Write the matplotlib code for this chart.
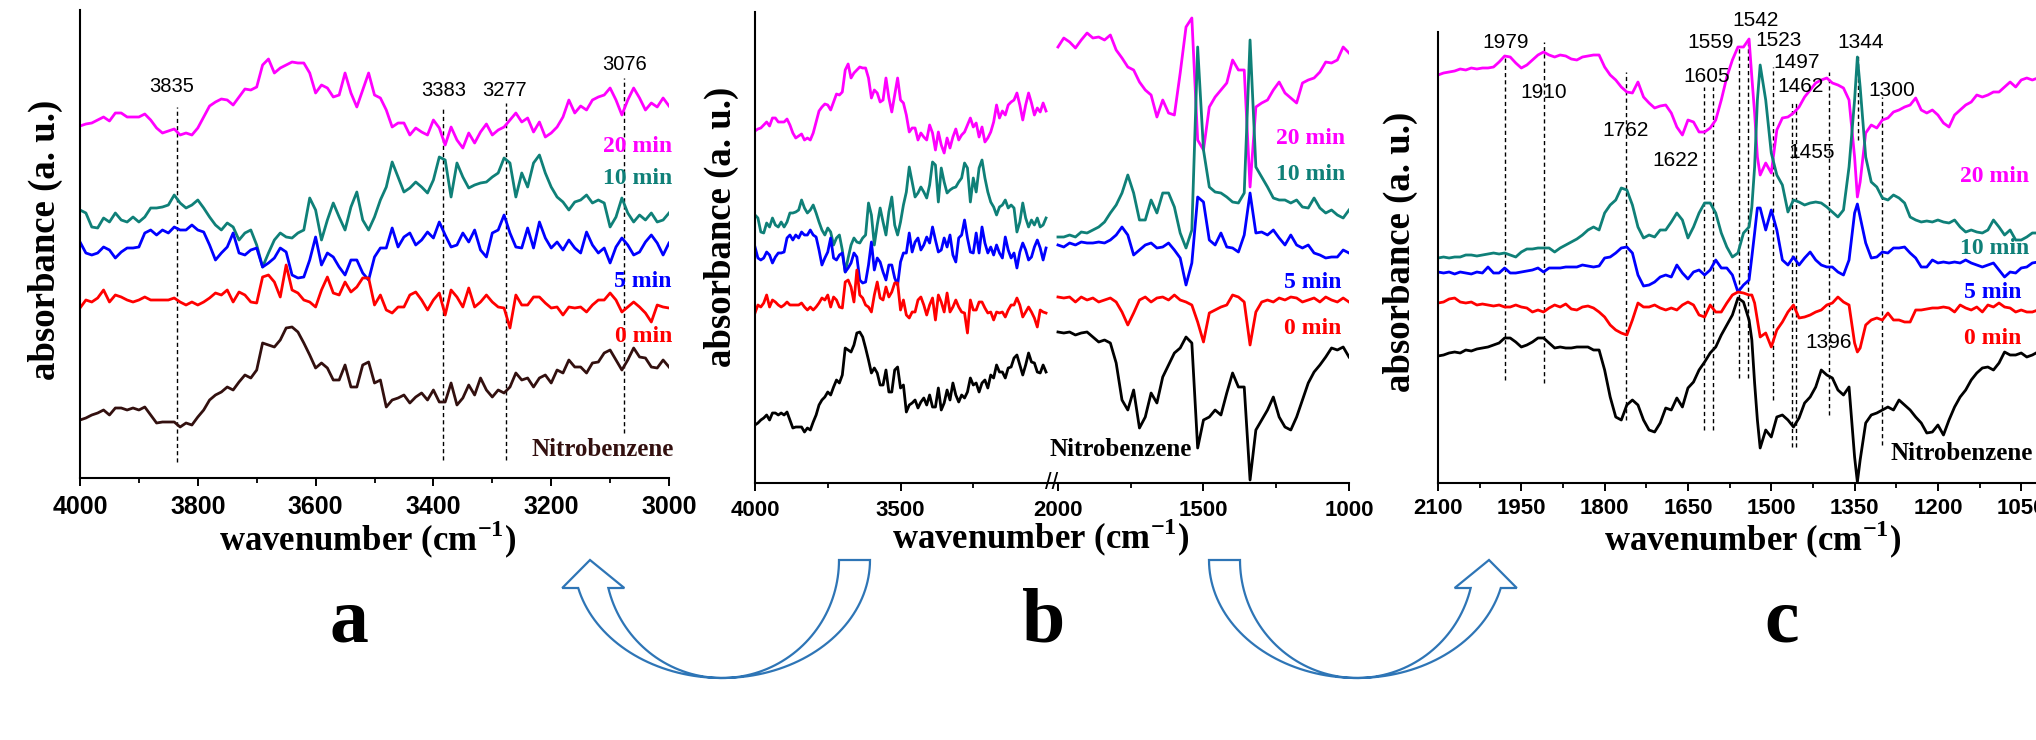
import numpy as np
import matplotlib
matplotlib.use("Agg")
import matplotlib.pyplot as plt
from matplotlib.patches import Polygon
from matplotlib.transforms import blended_transform_factory

plt.rcParams['font.family'] = ['Liberation Sans', 'DejaVu Sans']
plt.rcParams['mathtext.fontset'] = 'custom'
plt.rcParams['mathtext.rm'] = 'Liberation Serif'
plt.rcParams['mathtext.bf'] = 'Liberation Serif:bold'
SERIF = ['Liberation Serif', 'DejaVu Serif']

# ---------------- data (absorbance, arbitrary units, stacked) ----------------
# 4000-3000 cm-1 region, every 10 cm-1
WN_HIGH = np.arange(4000, 2999, -10)
PINK_HIGH = [352, 354, 355, 358, 361, 357, 365, 365, 361, 361,
             361, 364, 358, 350, 345, 347, 349, 343, 345, 343,
             350, 361, 372, 376, 379, 378, 373, 381, 389, 388,
             391, 413, 419, 405, 410, 413, 416, 415, 415, 405,
             385, 393, 390, 381, 383, 405, 385, 371, 388, 405,
             383, 380, 368, 351, 355, 355, 343, 350, 346, 343,
             358, 350, 333, 351, 338, 330, 345, 335, 346, 354,
             343, 348, 351, 358, 365, 356, 360, 346, 356, 341,
             345, 351, 361, 378, 365, 372, 368, 378, 381, 383,
             390, 378, 363, 378, 390, 380, 368, 375, 371, 380, 372]
TEAL_HIGH = [268, 265, 251, 250, 260, 256, 265, 258, 256, 261,
             256, 261, 270, 270, 271, 273, 283, 275, 270, 273,
             278, 270, 261, 253, 248, 255, 251, 238, 245, 248,
             233, 211, 225, 238, 245, 241, 240, 245, 248, 280,
             268, 238, 258, 275, 261, 248, 271, 286, 258, 248,
             261, 278, 291, 316, 301, 286, 290, 296, 291, 285,
             298, 321, 318, 281, 315, 301, 290, 293, 295, 296,
             301, 305, 320, 315, 281, 305, 291, 315, 323, 305,
             291, 281, 276, 268, 276, 278, 283, 275, 278, 275,
             251, 261, 280, 265, 256, 263, 258, 265, 256, 258, 265]
BLUE_HIGH = [236, 225, 223, 225, 231, 228, 220, 226, 230, 230,
             231, 245, 248, 243, 248, 245, 251, 248, 248, 253,
             248, 246, 233, 218, 225, 231, 245, 225, 223, 228,
             230, 211, 215, 220, 230, 226, 203, 200, 201, 218,
             241, 213, 225, 221, 211, 203, 218, 218, 205, 198,
             221, 230, 230, 250, 231, 241, 245, 233, 238, 246,
             240, 256, 243, 231, 233, 245, 236, 248, 228, 221,
             245, 248, 263, 245, 231, 230, 250, 230, 256, 240,
             230, 236, 228, 238, 230, 225, 246, 233, 225, 230,
             215, 231, 240, 233, 223, 226, 236, 243, 235, 223, 235]
RED_HIGH = [170, 178, 176, 180, 188, 176, 183, 181, 178, 176,
            178, 181, 178, 178, 178, 178, 180, 176, 173, 176,
            173, 176, 180, 185, 183, 188, 176, 186, 183, 176,
            175, 201, 203, 196, 181, 213, 188, 185, 178, 176,
            171, 188, 201, 185, 183, 196, 186, 191, 200, 200,
            173, 183, 168, 165, 171, 171, 183, 186, 178, 168,
            178, 185, 163, 188, 181, 171, 190, 171, 176, 183,
            176, 171, 170, 150, 183, 173, 173, 181, 181, 175,
            170, 171, 163, 171, 170, 171, 166, 173, 178, 178,
            185, 178, 166, 171, 176, 171, 165, 156, 173, 171, 170]
BLACK_HIGH = [58, 60, 63, 65, 68, 63, 70, 70, 68, 70,
              68, 71, 63, 55, 56, 56, 56, 51, 55, 53,
              61, 68, 78, 83, 86, 91, 88, 96, 103, 100,
              108, 135, 133, 131, 138, 150, 151, 146, 135, 123,
              110, 115, 110, 98, 98, 113, 91, 91, 113, 116,
              95, 98, 71, 78, 80, 83, 75, 81, 85, 78,
              88, 76, 76, 95, 73, 80, 93, 83, 100, 88,
              81, 88, 85, 91, 105, 98, 100, 91, 100, 103,
              95, 108, 105, 118, 111, 111, 105, 115, 116, 125,
              128, 118, 108, 118, 130, 121, 120, 111, 110, 118, 111]

# 2000-1000 cm-1 region as drawn in panel b, every 20 cm-1
WN_MID = np.arange(2000, 999, -20)
PINK_MID = [436, 445, 441, 435, 443, 450, 445, 446, 443, 448,
            433, 425, 416, 413, 401, 393, 388, 366, 383, 370,
            368, 410, 456, 465, 343, 333, 376, 386, 393, 400,
            423, 413, 413, 296, 376, 380, 383, 393, 401, 390,
            385, 380, 400, 403, 405, 411, 421, 420, 423, 436, 430]
TEAL_MID = [246, 246, 248, 246, 251, 250, 253, 256, 261, 270,
            278, 290, 308, 290, 263, 263, 283, 270, 290, 290,
            276, 250, 235, 253, 436, 333, 296, 291, 290, 286,
            281, 280, 290, 443, 316, 306, 296, 285, 283, 283,
            280, 283, 276, 275, 285, 275, 270, 273, 268, 265, 273]
BLUE_MID = [238, 236, 240, 238, 241, 240, 240, 241, 240, 243,
            248, 256, 248, 228, 233, 238, 240, 235, 236, 240,
            233, 225, 198, 220, 286, 281, 243, 238, 250, 236,
            235, 231, 248, 290, 250, 251, 248, 253, 245, 238,
            248, 238, 235, 238, 230, 228, 225, 226, 226, 233, 230]
RED_MID = [186, 185, 186, 181, 186, 183, 185, 181, 183, 185,
           181, 171, 158, 170, 183, 186, 181, 185, 186, 183,
           188, 183, 181, 178, 161, 141, 170, 173, 176, 178,
           188, 186, 181, 138, 171, 181, 183, 181, 185, 183,
           186, 185, 181, 183, 185, 181, 186, 183, 181, 185, 181]
BLACK_MID = [151, 150, 151, 148, 150, 151, 146, 141, 143, 140,
             120, 83, 73, 93, 55, 66, 90, 80, 106, 118,
             130, 135, 146, 140, 35, 63, 66, 73, 68, 90,
             110, 96, 96, 3, 53, 63, 73, 86, 66, 56,
             53, 66, 83, 100, 111, 118, 126, 135, 133, 136, 126]

# 2100-1000 cm-1 region as drawn in panel c, every 10 cm-1 plus a few extra points
WN_LOW = np.array(sorted(set(range(2100, 999, -10)) | {1535, 1525, 1345}, reverse=True))
PINK_LOW = [408, 410, 411, 412, 414, 413, 415, 414, 415, 415,
            416, 421, 427, 426, 420, 415, 418, 423, 428, 431,
            428, 426, 428, 427, 424, 423, 426, 427, 428, 428,
            416, 408, 403, 396, 391, 390, 401, 386, 380, 375,
            377, 378, 370, 356, 348, 363, 361, 351, 351, 355,
            363, 383, 406, 423, 436, 436, 444,
            406, 370, 326, 308,
            320, 310, 353, 365, 366, 370, 376, 386, 393, 400,
            403, 405, 400, 398, 395, 383, 326,
            286,
            301, 350, 358, 355, 363, 365, 371, 373, 376, 378,
            385, 373, 370, 373, 368, 360, 356, 368, 373, 378,
            381, 388, 386, 388, 391, 391, 396, 401, 396, 403,
            405, 403, 405, 412, 415]
TEAL_LOW = [225, 226, 225, 226, 226, 228, 228, 227, 228, 229,
            230, 229, 230, 228, 226, 231, 234, 234, 235, 235,
            235, 231, 235, 238, 241, 244, 248, 253, 256, 253,
            270, 278, 283, 295, 293, 278, 256, 245, 248, 246,
            253, 253, 261, 270, 263, 245, 256, 270, 280, 280,
            270, 250, 236, 226, 230, 250, 256,
            276, 316, 383, 418,
            383, 330, 308, 298, 271, 283, 281, 278, 280, 281,
            280, 276, 271, 266, 273, 316, 383,
            426,
            396, 326, 301, 296, 285, 283, 288, 285, 280, 266,
            263, 261, 262, 261, 263, 261, 260, 263, 256, 251,
            253, 251, 250, 253, 263, 256, 248, 253, 243, 243,
            246, 250, 250, 253, 256]
BLUE_LOW = [211, 210, 211, 209, 211, 210, 209, 211, 210, 216,
            210, 210, 215, 210, 210, 211, 212, 213, 215, 211,
            215, 215, 215, 216, 216, 216, 218, 217, 216, 217,
            225, 226, 230, 235, 236, 230, 208, 197, 198, 201,
            206, 208, 206, 218, 210, 204, 211, 213, 208, 213,
            223, 215, 215, 208, 191, 198, 203,
            226, 250, 275, 275,
            253, 273, 253, 223, 218, 226, 218, 225, 231, 223,
            218, 216, 216, 211, 208, 223, 270,
            279,
            266, 240, 225, 226, 231, 230, 235, 235, 236, 230,
            225, 216, 216, 223, 220, 221, 220, 221, 220, 223,
            220, 218, 216, 218, 220, 213, 206, 211, 210, 215,
            216, 220, 221, 220, 223]
RED_LOW = [180, 181, 184, 185, 181, 180, 181, 178, 179, 178,
           177, 178, 176, 176, 178, 176, 175, 171, 173, 171,
           175, 178, 176, 179, 174, 173, 176, 177, 175, 171,
           166, 158, 153, 150, 148, 163, 180, 176, 176, 178,
           175, 173, 175, 173, 178, 181, 178, 168, 166, 178,
           171, 171, 180, 188, 191, 190, 188,
           188, 180, 163, 146,
           150, 136, 153, 161, 171, 178, 165, 166, 168, 171,
           173, 178, 180, 186, 181, 178, 140,
           131,
           135, 158, 163, 165, 163, 170, 163, 163, 161, 161,
           173, 173, 174, 175, 175, 176, 175, 171, 178, 175,
           173, 176, 171, 178, 176, 180, 176, 175, 171, 173,
           171, 171, 173, 171, 173]
BLACK_LOW = [127, 128, 130, 131, 130, 133, 132, 134, 135, 136,
             138, 140, 145, 145, 141, 136, 138, 141, 145, 145,
             140, 135, 136, 135, 135, 136, 136, 136, 133, 133,
             113, 86, 66, 63, 78, 83, 78, 63, 53, 51,
             60, 75, 73, 85, 76, 95, 101, 113, 121, 130,
             136, 148, 158, 168, 185, 181, 163,
             143, 100, 63, 35,
             53, 46, 66, 68, 63, 56, 65, 80, 86, 96,
             113, 108, 105, 93, 88, 96, 26,
             1,
             23, 60, 68, 70, 73, 76, 73, 83, 78, 73,
             66, 60, 50, 51, 58, 48, 63, 76, 86, 93,
             103, 110, 115, 116, 113, 120, 131, 128, 128, 130,
             126, 128, 131, 135, 130]

SERIES = ['20 min', '10 min', '5 min', '0 min', 'Nitrobenzene']
HIGH = [PINK_HIGH, TEAL_HIGH, BLUE_HIGH, RED_HIGH, BLACK_HIGH]
MID = [PINK_MID, TEAL_MID, BLUE_MID, RED_MID, BLACK_MID]
LOW = [PINK_LOW, TEAL_LOW, BLUE_LOW, RED_LOW, BLACK_LOW]

PEAKS_A = [3835, 3383, 3277, 3076]
PEAKS_C = [1979, 1910, 1762, 1622, 1605, 1559, 1542, 1523,
           1497, 1462, 1455, 1396, 1344, 1300]

# ---------------- styles / layout ----------------
COLORS = ['#ff00ff', '#0f8078', '#0000ff', '#ff0000', '#000000']
COLORS_A = COLORS[:4] + ['#33100f']
W, H = 2036, 740
fig = plt.figure(figsize=(W / 100, H / 100), dpi=100)


def px_axes(left, top, right, bottom):
    return fig.add_axes([left / W, 1 - bottom / H, (right - left) / W, (bottom - top) / H])


def style(ax, ticks, minor, fs, pad):
    for s in ('top', 'right'):
        ax.spines[s].set_visible(False)
    for s in ('left', 'bottom'):
        ax.spines[s].set_linewidth(1.5)
    ax.set_yticks([])
    ax.set_xticks(ticks, labels=[str(t) for t in ticks], fontsize=fs, fontweight='bold')
    ax.set_xticks(minor, minor=True)
    ax.tick_params(axis='x', which='major', direction='out', length=6, width=1.4, pad=pad)
    ax.tick_params(axis='x', which='minor', direction='out', length=3.5, width=1.3)


def labels(ax, xl, yl):
    ax.set_xlabel(r'wavenumber (cm$^{\mathbf{-1}}$)', fontsize=25, fontweight='bold', family=SERIF)
    ax.xaxis.label.set_va('center')
    ax.xaxis.set_label_coords(*xl)
    ax.set_ylabel('absorbance (a. u.)', fontsize=26.5, fontweight='bold', family=SERIF)
    ax.yaxis.label.set_va('center')
    ax.yaxis.set_label_coords(*yl)


def dashed(ax, wn, lo, hi):
    ax.plot([wn, wn], [lo, hi], color='k', lw=1.0, dashes=(3, 2.2), zorder=1)


def series_labels(ax, pos, colors):
    for name, col, (x, y, ha) in zip(SERIES, colors, pos):
        fs = 18 if name == 'Nitrobenzene' else 17
        ax.text(x, y, name, color=col, fontsize=fs, fontweight='bold', family=SERIF,
                ha=ha, va='center', zorder=4)


# ---------------- panel a ----------------
ax_a = px_axes(80, 10, 669, 478)
for vals, col in zip(HIGH, COLORS_A):
    ax_a.plot(WN_HIGH, vals, color=col, lw=2.0, zorder=2)
ax_a.set_xlim(4000, 3000)
ax_a.set_ylim(0, 468)
style(ax_a, list(range(4000, 2999, -200)), list(range(3900, 3000, -200)), 18, 6)
labels(ax_a, (0.489, -0.1325), (-0.059, 0.508))
lines_a = {3835: (16, 371, 3844, 391), 3383: (18, 371, 3383, 388),
           3277: (18, 375, 3280, 388), 3076: (45, 400, 3076, 413)}
for p in PEAKS_A:
    lo, hi, tx, ty = lines_a[p]
    dashed(ax_a, p, lo, hi)
    ax_a.text(tx, ty, str(p), fontsize=14.5, ha='center', va='center')
series_labels(ax_a, [(2995, 331, 'right'), (2995, 299, 'right'), (2995, 196, 'right'),
                     (2995, 141, 'right'), (2992, 28, 'right')], COLORS_A)

# ---------------- panel b (broken axis) ----------------
GAP = 41.0


def _fwd(w):
    w = np.asarray(w, float)
    return np.where(w <= 2000, w - 1000,
                    np.where(w >= 3000, w - 2000 + GAP, 1000 + (w - 2000) * GAP / 1000))


def _inv(u):
    u = np.asarray(u, float)
    return np.where(u <= 1000, u + 1000,
                    np.where(u >= 1000 + GAP, u + 2000 - GAP, 2000 + (u - 1000) * 1000 / GAP))


ax_b = px_axes(755, 12, 1349, 483)
ax_b.set_xscale('function', functions=(_fwd, _inv))
for vals, vals_mid, col in zip(HIGH, MID, COLORS):
    ax_b.plot(WN_HIGH, vals, color=col, lw=2.0, zorder=2)
    ax_b.plot(WN_MID, vals_mid, color=col, lw=2.0, zorder=2)
ax_b.set_xlim(4000, 1000)
ax_b.set_ylim(0, 471)
style(ax_b, [4000, 3500, 2000, 1500, 1000], [3750, 3250, 1750, 1250], 16, 6)
labels(ax_b, (0.48, -0.117), (-0.057, 0.544))
ax_b.text(2500, 0, '//', transform=blended_transform_factory(ax_b.transData, ax_b.transAxes),
          fontsize=17, ha='center', va='center', clip_on=False, zorder=5)
series_labels(ax_b, [(1014, 345, 'right'), (1014, 308, 'right'), (1027, 201, 'right'),
                     (1027, 155, 'right'), (1541, 33, 'right')], COLORS)

# ---------------- panel c ----------------
ax_c = px_axes(1438, 32, 2049, 483)
for vals, col in zip(LOW, COLORS):
    ax_c.plot(WN_LOW, vals, color=col, lw=2.0, zorder=2)
ax_c.set_xlim(2100, 1000)
ax_c.set_ylim(0, 451)
style(ax_c, list(range(2100, 999, -150)), list(range(2025, 999, -150)), 16, 4.5)
labels(ax_c, (0.514, -0.126), (-0.062, 0.512))
lines_c = {1979: ((103, 428), (1979, 440)), 1910: ((100, 441), (1910, 390)),
           1762: ((63, 411), (1762, 353)), 1622: ((53, 396), (1672, 323)),
           1605: ((53, 396), (1616, 407)), 1559: ((105, 436), (1609, 440)),
           1542: ((105, 441), (1529, 462)), 1523: (None, (1486, 442)),
           1497: ((83, 416), (1454, 420)), 1462: ((36, 380), (1447, 397)),
           1455: ((36, 380), (1427, 330)), 1396: ((68, 411), (1396, 140)),
           1344: ((343, 428), (1340, 441)), 1300: ((38, 386), (1283, 392))}
for p in PEAKS_C:
    line, (tx, ty) = lines_c[p]
    if line:
        dashed(ax_c, p, *line)
    ax_c.text(tx, ty, str(p), fontsize=15, ha='center', va='center', zorder=3)
series_labels(ax_c, [(1036, 306, 'right'), (1036, 235, 'right'), (1049, 190, 'right'),
                     (1049, 145, 'right'), (1285, 30, 'left')], COLORS)

# ---------------- decorations: panel letters and curved arrows ----------------
deco = fig.add_axes([0, 0, 1, 1])
deco.set_xlim(0, W)
deco.set_ylim(H, 0)
deco.axis('off')
for letter, x in (('a', 349), ('b', 1044), ('c', 1782)):
    deco.text(x, 641, letter, fontsize=56, fontweight='bold', family=SERIF,
              ha='center', va='baseline')


def curved_arrow(cx, side):
    cy, b, a_out, a_in = 560, 118, 148, 117
    th_end = np.pi - np.arcsin(28 / b)
    th = np.linspace(0, th_end, 80)
    outer = np.c_[a_out * np.cos(th), b * np.sin(th)]
    inner = np.c_[a_in * np.cos(th), b * np.sin(th)][::-1]
    head = np.array([[a_out * np.cos(th_end) - 16, 28], [-132, 0],
                     [a_in * np.cos(th_end) + 16, 28]])
    pts = np.vstack([outer, head, inner])
    pts[:, 0] = cx + side * pts[:, 0]
    pts[:, 1] = cy + pts[:, 1]
    deco.add_patch(Polygon(pts, closed=True, facecolor='white',
                           edgecolor='#2e75b6', lw=1.6))


curved_arrow(722, 1)
curved_arrow(1357, -1)

fig.savefig('out.png', dpi=100)
